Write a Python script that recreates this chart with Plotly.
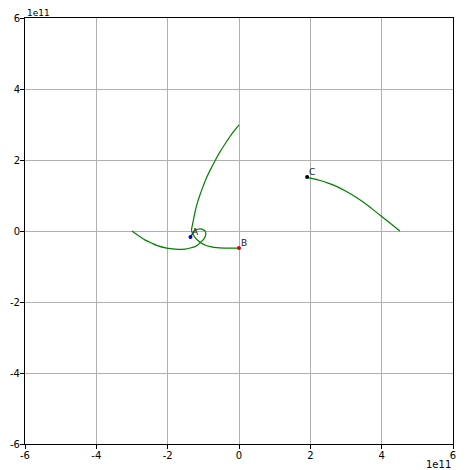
import plotly.graph_objects as go

# positions in units of 1e11 m
trail_b_x = [0.0, -0.19, -0.36, -0.52, -0.66, -0.79, -0.91, -1.01, -1.10, -1.18, -1.24, -1.28,
             -1.31, -1.33, -1.30, -1.24, -1.16, -1.06, -0.94, -0.80, -0.62, -0.42, -0.21, 0.0]
trail_b_y = [2.99, 2.75, 2.50, 2.25, 2.00, 1.75, 1.50, 1.25, 1.00, 0.75, 0.50, 0.30,
             0.15, 0.03, -0.08, -0.17, -0.26, -0.34, -0.40, -0.44, -0.47, -0.48, -0.485, -0.48]

trail_a_x = [-3.0, -2.82, -2.64, -2.45, -2.27, -2.03, -1.79, -1.65, -1.51, -1.37, -1.23, -1.14,
             -1.07, -1.00, -0.95, -0.93, -0.95, -1.01, -1.08, -1.16, -1.23, -1.29, -1.33, -1.36]
trail_a_y = [0.0, -0.13, -0.25, -0.34, -0.42, -0.48, -0.51, -0.52, -0.51, -0.48, -0.44, -0.38,
             -0.31, -0.24, -0.16, -0.07, 0.0, 0.04, 0.06, 0.05, 0.01, -0.05, -0.11, -0.17]

trail_c_x = [4.51, 4.25, 4.00, 3.75, 3.50, 3.25, 3.00, 2.75, 2.50, 2.25, 2.00, 1.91]
trail_c_y = [0.0, 0.21, 0.41, 0.61, 0.80, 0.97, 1.12, 1.25, 1.35, 1.43, 1.49, 1.51]

bodies = ["A", "B", "C"]
body_x = [-1.36, 0.0, 1.91]
body_y = [-0.17, -0.48, 1.52]
body_colors = ["#0000cc", "#e00000", "#000000"]

ticks = [-6, -4, -2, 0, 2, 4, 6]
tick_text = [str(t) for t in ticks]

fig = go.Figure()
for tx, ty in [(trail_a_x, trail_a_y), (trail_b_x, trail_b_y), (trail_c_x, trail_c_y)]:
    fig.add_trace(go.Scatter(x=tx, y=ty, mode="lines",
                             line=dict(color="#008000", width=1.2, shape="spline", smoothing=0.6),
                             hoverinfo="skip", showlegend=False))

fig.add_trace(go.Scatter(x=body_x, y=body_y, mode="markers", marker=dict(color=body_colors, size=4),
                         hoverinfo="skip", showlegend=False))

axis = dict(range=[-6, 6], tickvals=ticks, ticktext=tick_text, showgrid=True,
            gridcolor="#b0b0b0", gridwidth=1, zeroline=False, showline=True,
            linecolor="black", linewidth=1, mirror=True, ticks="outside",
            ticklen=4, tickcolor="black", tickfont=dict(size=10, color="black"),
            ticklabelstandoff=-2, automargin=False)

labels = [dict(text=b, x=bx, y=by, xref="x", yref="y", xanchor="left", yanchor="bottom",
               yshift=-2, showarrow=False, font=dict(size=9, color="#222"))
          for b, bx, by in zip(bodies, body_x, body_y)]

# page body has an 8px margin, so the figure is shrunk and margins trimmed
fig.update_layout(
    width=466, height=462,
    margin=dict(l=17, r=21, t=10, b=26),
    paper_bgcolor="white", plot_bgcolor="white",
    font=dict(family="DejaVu Sans", size=10, color="black"),
    xaxis=axis, yaxis=axis,
    annotations=labels + [
        dict(text="1e11", xref="paper", yref="paper", x=0, y=1, xanchor="left",
             yanchor="bottom", yshift=-2, showarrow=False, font=dict(size=9)),
        dict(text="1e11", xref="paper", yref="paper", x=1, y=0, xanchor="right",
             yanchor="top", yshift=-13, showarrow=False, font=dict(size=10)),
    ],
)

fig.write_html("out.html")
